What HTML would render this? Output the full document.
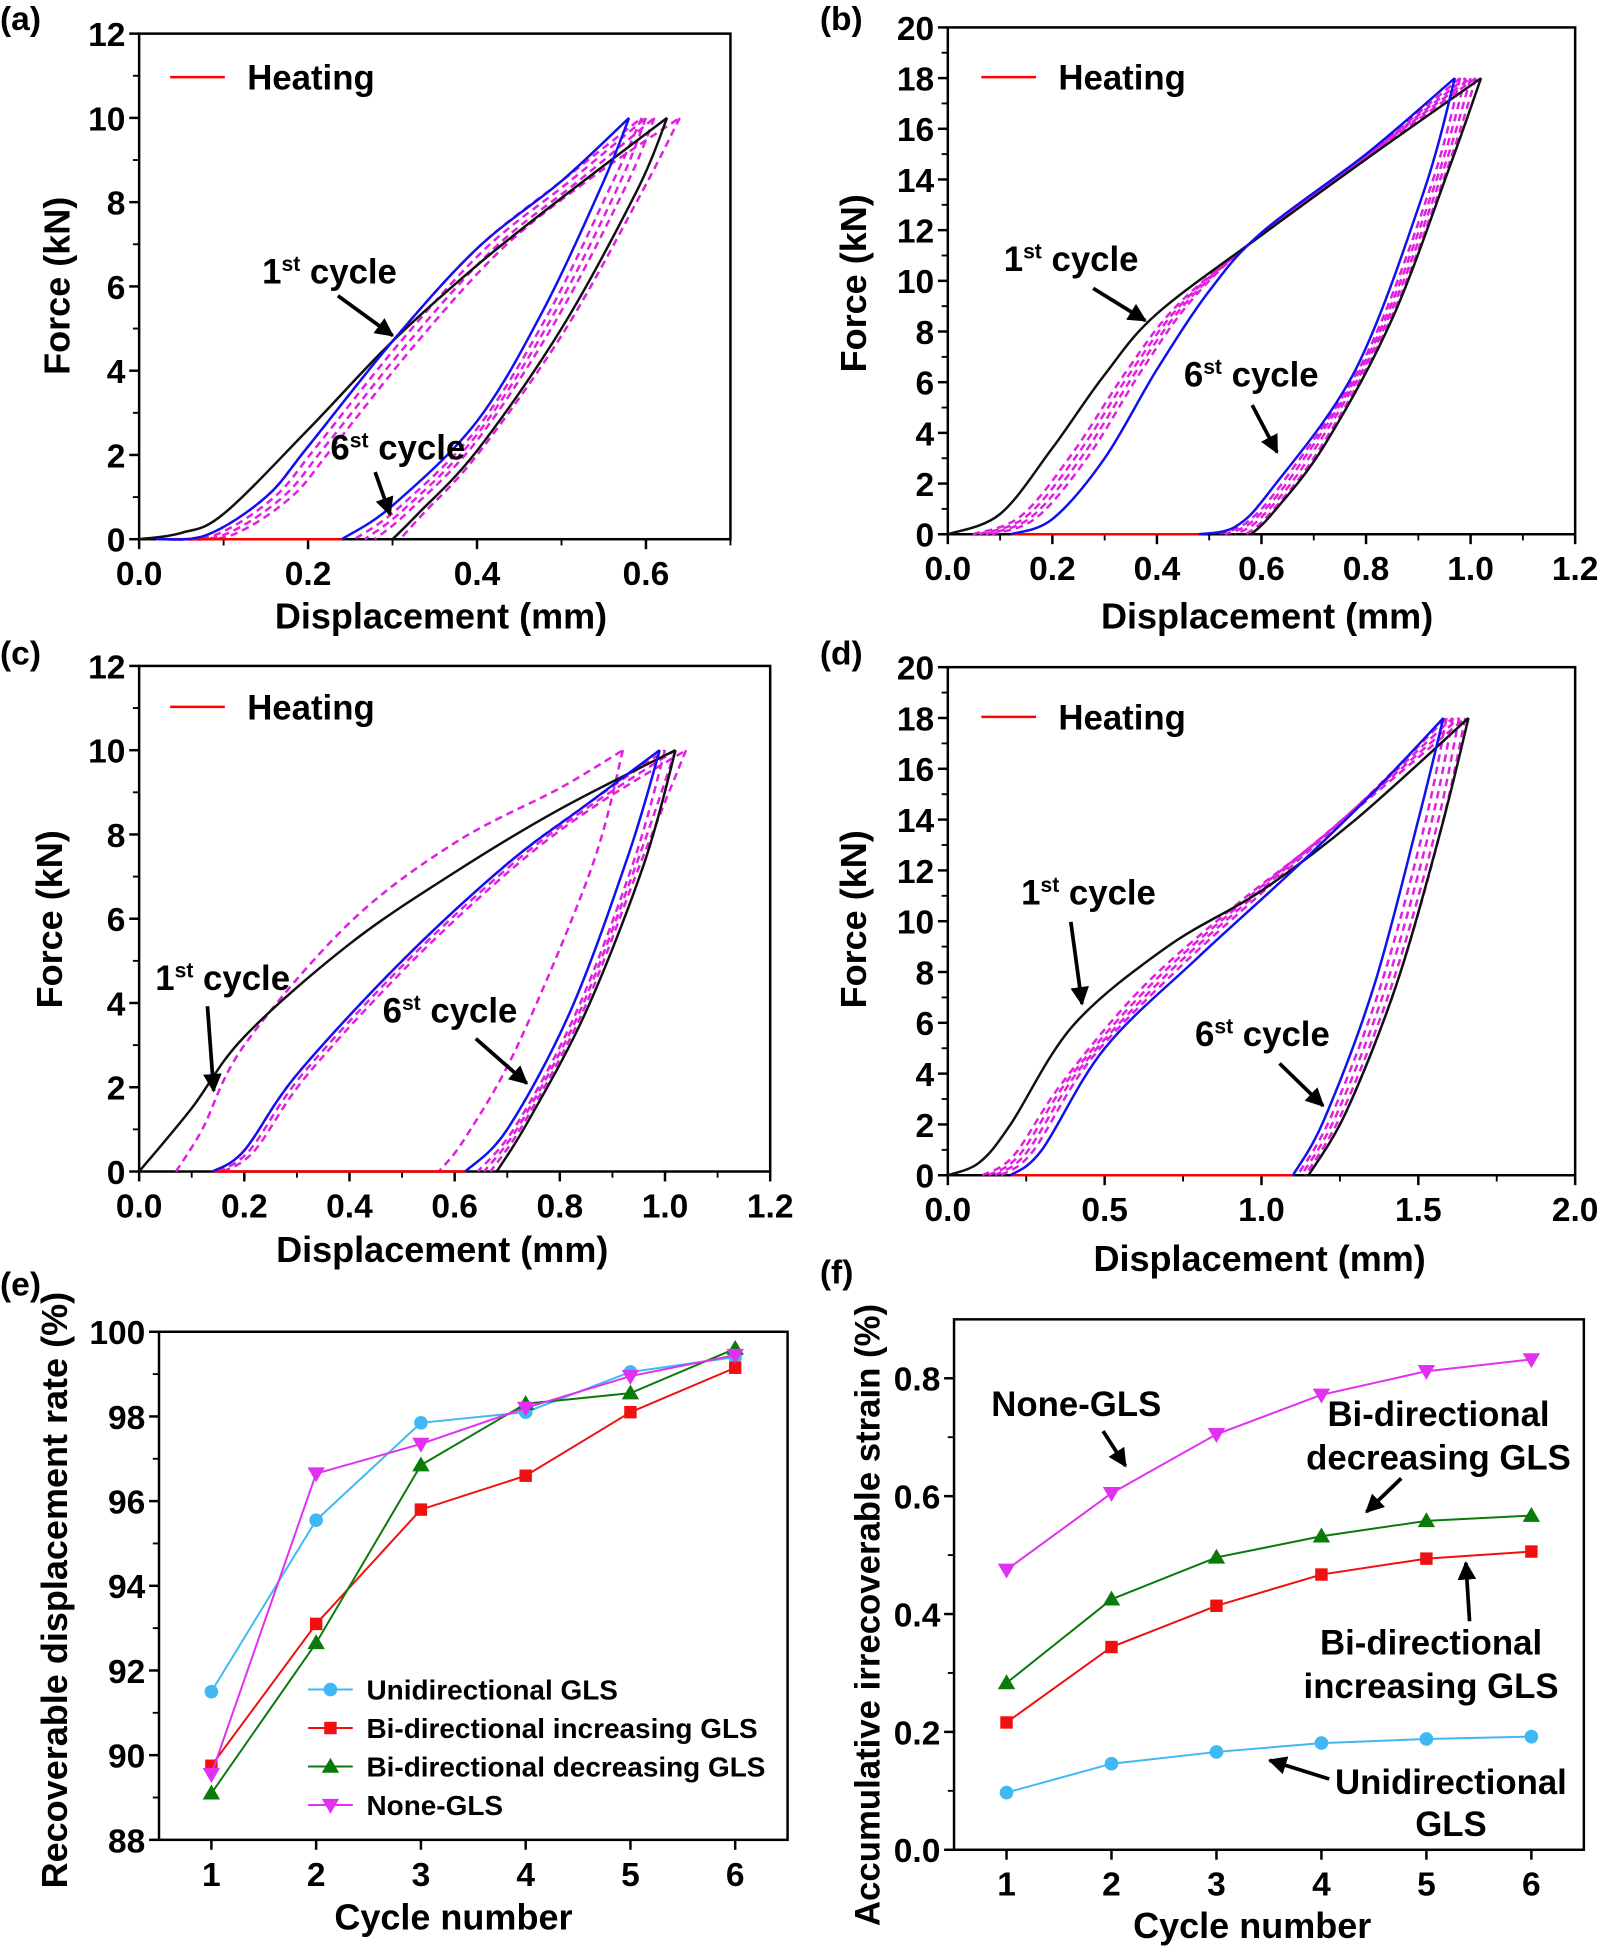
<!DOCTYPE html>
<html><head><meta charset="utf-8">
<style>
html,body{margin:0;padding:0;background:#fff;}
svg{display:block;}
text{font-family:"Liberation Sans",Arial,sans-serif;font-weight:bold;fill:#000;}
</style></head>
<body>
<svg id="s" width="1600" height="1948" viewBox="0 0 1288 1568" xmlns="http://www.w3.org/2000/svg">
<defs>
<marker id="ah" viewBox="0 0 10 10" refX="9" refY="5" markerWidth="5" markerHeight="5" orient="auto"><path d="M0,0 L10,5 L0,10 z" fill="#000"/></marker>
</defs>
<g id="g"></g>
</svg>
<script>
var G=document.getElementById('g');var NS="http://www.w3.org/2000/svg";
function el(t,a,txt){var e=document.createElementNS(NS,t);for(var k in a)e.setAttribute(k,a[k]);if(txt!==undefined)e.textContent=txt;G.appendChild(e);return e;}
function txt(x,y,s,size,anchor,extra){var e=el('text',Object.assign({x:x,y:y,'font-size':size,'text-anchor':anchor||'start'},extra||{}));e.innerHTML=s;return e;}
function axes(o){
 var X=function(v){return o.x0+(v-o.xmin)/(o.xmax-o.xmin)*(o.x1-o.x0);};
 var Y=function(v){return o.y0-(v-o.ymin)/(o.ymax-o.ymin)*(o.y0-o.y1);};
 el('rect',{x:o.x0,y:o.y1,width:o.x1-o.x0,height:o.y0-o.y1,fill:'none',stroke:'#000','stroke-width':2});
 o.xt.forEach(function(v){el('line',{x1:X(v),y1:o.y0,x2:X(v),y2:o.y0+8,stroke:'#000','stroke-width':2});
   txt(X(v),o.y0+37,o.xf?o.xf(v):v,27,'middle');});
 (o.xm||[]).forEach(function(v){el('line',{x1:X(v),y1:o.y0,x2:X(v),y2:o.y0+5,stroke:'#000','stroke-width':1.5});});
 o.yt.forEach(function(v){el('line',{x1:o.x0,y1:Y(v),x2:o.x0-8,y2:Y(v),stroke:'#000','stroke-width':2});
   txt(o.x0-11,Y(v)+10,o.yf?o.yf(v):v,27,'end');});
 (o.ym||[]).forEach(function(v){el('line',{x1:o.x0,y1:Y(v),x2:o.x0-5,y2:Y(v),stroke:'#000','stroke-width':1.5});});
 return {X:X,Y:Y};
}
function range(a,b,s){var r=[];for(var v=a;v<=b+1e-9;v+=s)r.push(Math.round(v*1000)/1000);return r;}
function smooth(P){
 var d='M'+P[0][0]+','+P[0][1];
 for(var i=0;i<P.length-1;i++){var p0=P[i-1]||P[i],p1=P[i],p2=P[i+1],p3=P[i+2]||p2;
  var c1=[p1[0]+(p2[0]-p0[0])/6,p1[1]+(p2[1]-p0[1])/6],c2=[p2[0]-(p3[0]-p1[0])/6,p2[1]-(p3[1]-p1[1])/6];
  d+=' C'+c1[0].toFixed(1)+','+c1[1].toFixed(1)+' '+c2[0].toFixed(1)+','+c2[1].toFixed(1)+' '+p2[0].toFixed(1)+','+p2[1].toFixed(1);}
 return d;}
function curve(A,pts,col,dash,w){var P=pts.map(function(p){return [A.X(p[0]),A.Y(p[1])];});
 var a={d:smooth(P),fill:'none',stroke:col,'stroke-width':w||2};if(dash)a['stroke-dasharray']='6,4';el('path',a);}
function loop(A,load,unload,col,dash){curve(A,load,col,dash);curve(A,unload,col,dash);}
function interp(a,b,t){return a.map(function(p,i){return [p[0]+(b[i][0]-p[0])*t,p[1]+(b[i][1]-p[1])*t];});}
function arrow(x1,y1,x2,y2){el('line',{x1:x1,y1:y1,x2:x2,y2:y2,stroke:'#000','stroke-width':3,'marker-end':'url(#ah)'});}
function cyc(x,y,n){txt(x,y,n+'<tspan font-size="17" dy="-10">st</tspan><tspan dy="10"> cycle</tspan>',28);}
function legendHeat(x,y){el('line',{x1:x,y1:y,x2:x+44,y2:y,stroke:'#f00','stroke-width':2});txt(x+62,y+10,'Heating',28);}
function xtitle(x,y,s){txt(x,y,s,29,'middle');}
function ytitle(x,y,s,size){txt(0,0,s,size||29,'middle',{transform:'translate('+x+','+y+') rotate(-90)'});}
var f1=function(v){return v.toFixed(1);};

// (a)
txt(0,24,'(a)',27);
var A=axes({x0:112,x1:588,y0:434,y1:27,xmin:0,xmax:0.7,ymin:0,ymax:12,xt:[0,0.2,0.4,0.6],xm:[0.1,0.3,0.5,0.7],yt:range(0,12,2),ym:range(1,11,2),xf:f1});
var bl=[[0,0],[0.05,0.15],[0.1,0.6],[0.2,2.6],[0.3,4.7],[0.4,6.5],[0.5,8.1],[0.625,10]];
var bu=[[0.625,10],[0.59,8.3],[0.5,5],[0.4,2.1],[0.33,0.6],[0.3,0]];
var ul=[[0.02,0],[0.08,0.1],[0.15,1],[0.2,2.2],[0.3,4.7],[0.4,6.9],[0.5,8.5],[0.58,10]];
var uu=[[0.58,10],[0.55,8.5],[0.48,5.5],[0.4,2.8],[0.3,0.8],[0.24,0]];
[0.25,0.45,0.65,1.15].forEach(function(t,i){var ll=ul.map(function(p){return [p[0]+0.01*i,p[1]];});ll[ll.length-1]=[[0.595,0.6,0.61,0.64][i],10];
 var u2=interp(uu,bu,t);u2[0]=[[0.595,0.6,0.61,0.64][i],10];loop(A,ll,u2,'#e020e0',1);});
el('line',{x1:A.X(0.03),y1:A.Y(0),x2:A.X(0.24),y2:A.Y(0),stroke:'#f00','stroke-width':2});
loop(A,bl,bu,'#111');loop(A,ul,uu,'#1010f0');
legendHeat(137,62);ytitle(56,230,'Force (kN)');xtitle(355,506,'Displacement (mm)');
cyc(211,228,'1');arrow(272,238,316,270);cyc(266,370,'6');arrow(302,380,314,414);

// (b)
txt(660,24,'(b)',27);
var B=axes({x0:763,x1:1268,y0:430,y1:22,xmin:0,xmax:1.2,ymin:0,ymax:20,xt:range(0,1.2,0.2),xm:range(0.1,1.1,0.2),yt:range(0,20,2),ym:range(1,19,2),xf:f1});
bl=[[0,0],[0.1,0.8],[0.2,3.4],[0.3,6.3],[0.4,8.7],[0.6,11.8],[0.8,14.8],[1.02,18]];
bu=[[1.02,18],[0.96,14.5],[0.85,8.5],[0.72,3.5],[0.62,0.8],[0.58,0]];
ul=[[0.12,0],[0.2,0.6],[0.3,3],[0.4,6.5],[0.5,9.6],[0.6,11.9],[0.8,15],[0.97,18]];
uu=[[0.97,18],[0.91,13.5],[0.78,6.5],[0.62,1.8],[0.55,0.3],[0.48,0]];
[0.3,0.5,0.7,0.9].forEach(function(t,i){var ll=interp(ul,bl,0.3+0.1*i);ll[ll.length-1]=[0.98+0.01*i,18];var u2=interp(uu,bu,t);u2[0]=ll[ll.length-1];loop(B,ll,u2,'#e020e0',1);});
el('line',{x1:B.X(0.12),y1:B.Y(0),x2:B.X(0.48),y2:B.Y(0),stroke:'#f00','stroke-width':2});
loop(B,bl,bu,'#111');loop(B,ul,uu,'#1010f0');
legendHeat(790,62);ytitle(697,228,'Force (kN)');xtitle(1020,506,'Displacement (mm)');
cyc(808,218,'1');arrow(880,232,922,258);cyc(953,311,'6');arrow(1008,326,1028,364);

// (c)
txt(0,535,'(c)',27);
var C=axes({x0:112,x1:620,y0:943,y1:536,xmin:0,xmax:1.2,ymin:0,ymax:12,xt:range(0,1.2,0.2),xm:range(0.1,1.1,0.2),yt:range(0,12,2),ym:range(1,11,2),xf:f1});
bl=[[0,0],[0.1,1.5],[0.2,3.2],[0.4,5.4],[0.6,7.1],[0.8,8.6],[1.02,10]];
bu=[[1.02,10],[0.96,7.3],[0.85,3.8],[0.74,1.2],[0.68,0]];
ul=[[0.14,0],[0.2,0.5],[0.3,2.3],[0.5,5],[0.7,7.3],[0.85,8.7],[0.99,10]];
uu=[[0.99,10],[0.93,7.5],[0.82,3.8],[0.7,1],[0.62,0]];
loop(C,[[0.07,0],[0.12,1],[0.2,3],[0.4,5.9],[0.6,7.8],[0.8,9.1],[0.92,10]],[[0.92,10],[0.86,7.2],[0.72,3],[0.62,0.8],[0.57,0]],'#e020e0',1);
[0.4,0.6,0.8].forEach(function(t,i){var ll=ul.map(function(p){return [p[0]+0.01*i,p[1]];});ll[ll.length-1]=[1.0+0.02*i,10];var u2=interp(uu,bu,t);u2[0]=ll[ll.length-1];loop(C,ll,u2,'#e020e0',1);});
el('line',{x1:C.X(0.14),y1:C.Y(0),x2:C.X(0.62),y2:C.Y(0),stroke:'#f00','stroke-width':2});
loop(C,bl,bu,'#111');loop(C,ul,uu,'#1010f0');
legendHeat(137,569);ytitle(50,740,'Force (kN)');xtitle(356,1016,'Displacement (mm)');
cyc(125,797,'1');arrow(167,810,172,878);cyc(308,823,'6');arrow(383,836,424,872);

// (d)
txt(660,535,'(d)',27);
var D=axes({x0:763,x1:1268,y0:946,y1:537,xmin:0,xmax:2,ymin:0,ymax:20,xt:[0,0.5,1,1.5,2],xm:[0.25,0.75,1.25,1.75],yt:range(0,20,2),ym:range(1,19,2),xf:f1});
bl=[[0,0],[0.1,0.5],[0.2,2],[0.4,5.9],[0.7,9],[1.0,11.2],[1.3,14],[1.66,18]];
bu=[[1.66,18],[1.57,13.5],[1.43,7.5],[1.27,2.5],[1.15,0]];
ul=[[0.2,0],[0.3,1],[0.5,5],[0.8,8.6],[1.1,12],[1.35,15],[1.58,18]];
uu=[[1.58,18],[1.5,14],[1.36,7.5],[1.2,2.2],[1.1,0]];
[0.3,0.55,0.8,1.0].forEach(function(t,i){var ll=interp(ul,bl,0.15+0.1*i);ll[ll.length-1]=[1.59+0.02*i,18];var u2=interp(uu,bu,t);u2[0]=ll[ll.length-1];loop(D,ll,u2,'#e020e0',1);});
el('line',{x1:D.X(0.2),y1:D.Y(0),x2:D.X(1.1),y2:D.Y(0),stroke:'#f00','stroke-width':2});
loop(D,bl,bu,'#111');loop(D,ul,uu,'#1010f0');
legendHeat(790,577);ytitle(697,740,'Force (kN)');xtitle(1014,1023,'Displacement (mm)');
cyc(822,728,'1');arrow(862,742,871,808);cyc(962,842,'6');arrow(1030,856,1065,890);

// (e)
txt(0,1043,'(e)',27);
var E=axes({x0:128,x1:634,y0:1481,y1:1072,xmin:0.5,xmax:6.5,ymin:88,ymax:100,xt:[1,2,3,4,5,6],yt:range(88,100,2),ym:range(89,99,2)});
var cols=['#40b8f4','#f01010','#0a7a0a','#e030f0'];
var de=[[91.5,95.55,97.85,98.1,99.05,99.4],[89.75,93.1,95.8,96.6,98.1,99.15],[89.1,92.65,96.85,98.3,98.55,99.6],[89.55,96.65,97.35,98.2,98.95,99.45]];
function mark(x,y,k,c){if(k==0)el('circle',{cx:x,cy:y,r:5.5,fill:c});else if(k==1)el('rect',{x:x-5,y:y-5,width:10,height:10,fill:c});
 else if(k==2)el('path',{d:'M'+x+','+(y-7)+' l7,12 l-14,0z',fill:c});else el('path',{d:'M'+x+','+(y+7)+' l7,-12 l-14,0z',fill:c});}
function series(A,data){data.forEach(function(s,k){var pts=s.map(function(v,i){return A.X(i+1)+','+A.Y(v);}).join(' ');
 el('polyline',{points:pts,fill:'none',stroke:cols[k],'stroke-width':1.6});s.forEach(function(v,i){mark(A.X(i+1),A.Y(v),k,cols[k]);});});}
series(E,de);
['Unidirectional GLS','Bi-directional increasing GLS','Bi-directional decreasing GLS','None-GLS'].forEach(function(s,k){var y=1360+k*31;
 el('line',{x1:248,y1:y,x2:284,y2:y,stroke:cols[k],'stroke-width':1.6});mark(266,y,k,cols[k]);txt(295,y+8,s,22.5);});
ytitle(54,1280,'Recoverable displacement rate (%)',29);xtitle(365,1553,'Cycle number');

// (f)
txt(660,1033,'(f)',27);
var F=axes({x0:768,x1:1275,y0:1489,y1:1062,xmin:0.5,xmax:6.5,ymin:0,ymax:0.9,xt:[1,2,3,4,5,6],yt:[0,0.2,0.4,0.6,0.8],ym:[0.1,0.3,0.5,0.7],yf:f1});
var df=[[0.097,0.146,0.166,0.181,0.188,0.192],[0.216,0.344,0.414,0.467,0.494,0.506],[0.283,0.425,0.496,0.532,0.558,0.567],[0.475,0.605,0.705,0.772,0.812,0.832]];
series(F,df);
ytitle(708,1300,'Accumulative irrecoverable strain (%)',28);xtitle(1008,1560,'Cycle number');
txt(798,1140,'None-GLS',28);arrow(888,1152,906,1180);
txt(1158,1148,'Bi-directional',28,'middle');txt(1158,1183,'decreasing GLS',28,'middle');arrow(1128,1190,1100,1217);
txt(1152,1332,'Bi-directional',28,'middle');txt(1152,1367,'increasing GLS',28,'middle');arrow(1183,1305,1180,1258);
txt(1168,1444,'Unidirectional',28,'middle');txt(1168,1478,'GLS',28,'middle');arrow(1070,1432,1022,1417);
</script>
</body></html>
